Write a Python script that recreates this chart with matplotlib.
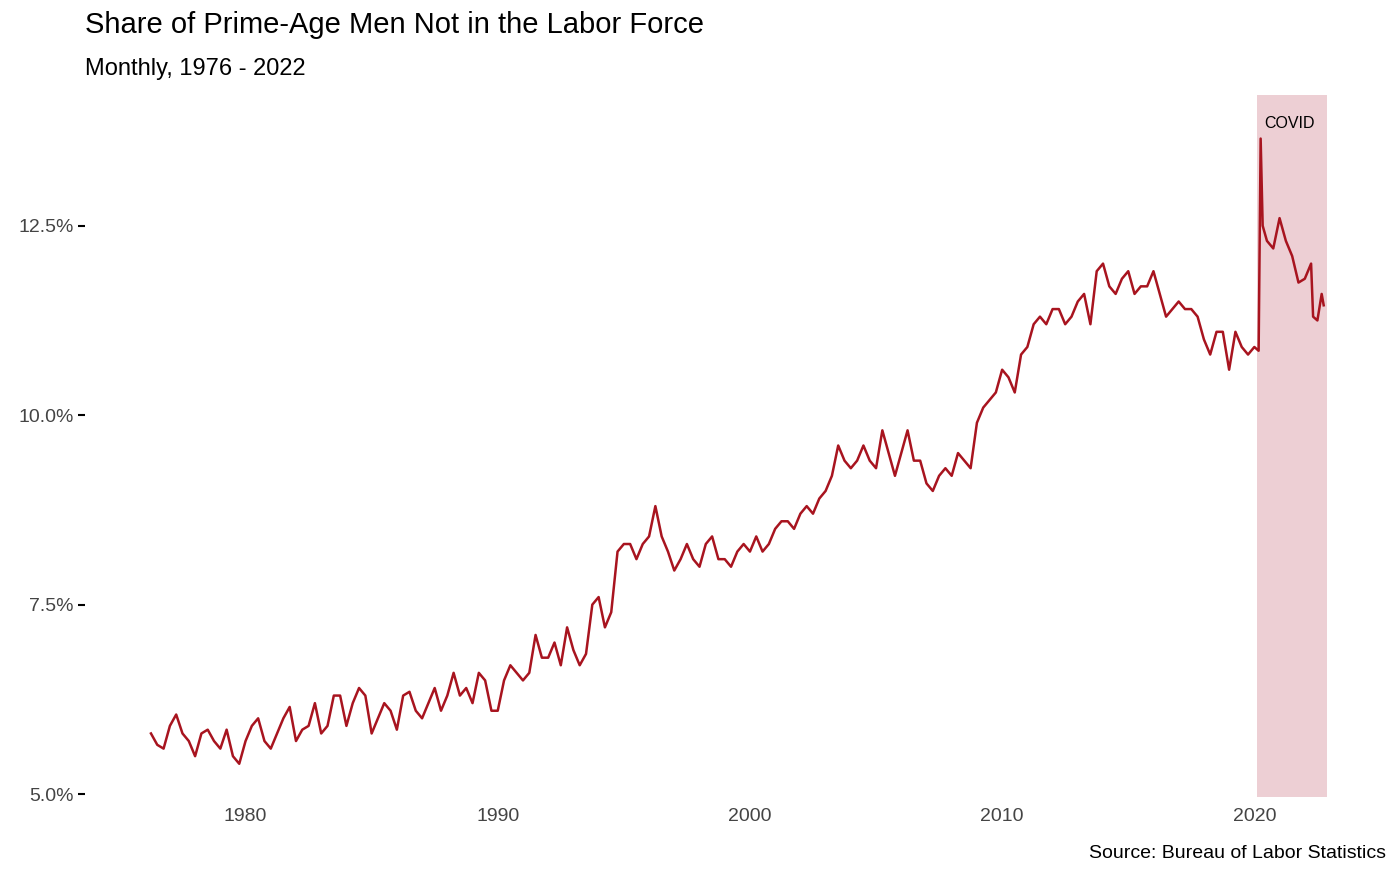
import numpy as np
import matplotlib
matplotlib.use('Agg')
import matplotlib.pyplot as plt
from matplotlib.ticker import FuncFormatter

plt.rcParams['font.family'] = ['Liberation Sans', 'DejaVu Sans']

# quarterly readings (percent), 1976 Q2 .. 2019 Q4
start_year = 1976.25
quarterly = [
    5.8, 5.65, 5.6,
    5.9, 6.05, 5.8, 5.7,
    5.5, 5.8, 5.85, 5.7,
    5.6, 5.85, 5.5, 5.4,
    5.7, 5.9, 6.0, 5.7,
    5.6, 5.8, 6.0, 6.15,
    5.7, 5.85, 5.9, 6.2,
    5.8, 5.9, 6.3, 6.3,
    5.9, 6.2, 6.4, 6.3,
    5.8, 6.0, 6.2, 6.1,
    5.85, 6.3, 6.35, 6.1,
    6.0, 6.2, 6.4, 6.1,
    6.3, 6.6, 6.3, 6.4,
    6.2, 6.6, 6.5, 6.1,
    6.1, 6.5, 6.7, 6.6,
    6.5, 6.6, 7.1, 6.8,
    6.8, 7.0, 6.7, 7.2,
    6.9, 6.7, 6.85, 7.5,
    7.6, 7.2, 7.4, 8.2,
    8.3, 8.3, 8.1, 8.3,
    8.4, 8.8, 8.4, 8.2,
    7.95, 8.1, 8.3, 8.1,
    8.0, 8.3, 8.4, 8.1,
    8.1, 8.0, 8.2, 8.3,
    8.2, 8.4, 8.2, 8.3,
    8.5, 8.6, 8.6, 8.5,
    8.7, 8.8, 8.7, 8.9,
    9.0, 9.2, 9.6, 9.4,
    9.3, 9.4, 9.6, 9.4,
    9.3, 9.8, 9.5, 9.2,
    9.5, 9.8, 9.4, 9.4,
    9.1, 9.0, 9.2, 9.3,
    9.2, 9.5, 9.4, 9.3,
    9.9, 10.1, 10.2, 10.3,
    10.6, 10.5, 10.3, 10.8,
    10.9, 11.2, 11.3, 11.2,
    11.4, 11.4, 11.2, 11.3,
    11.5, 11.6, 11.2, 11.9,
    12.0, 11.7, 11.6, 11.8,
    11.9, 11.6, 11.7, 11.7,
    11.9, 11.6, 11.3, 11.4,
    11.5, 11.4, 11.4, 11.3,
    11.0, 10.8, 11.1, 11.1,
    10.6, 11.1, 10.9, 10.8,
]
# pandemic period, finer readings
covid_dates = [2020.0, 2020.17, 2020.25, 2020.33, 2020.5, 2020.75,
               2021.0, 2021.25, 2021.5, 2021.75, 2022.0, 2022.25, 2022.33,
               2022.5, 2022.67, 2022.75]
covid_vals = [10.9, 10.85, 13.65, 12.5, 12.3, 12.2,
              12.6, 12.3, 12.1, 11.75, 11.8, 12.0, 11.3,
              11.25, 11.6, 11.45]
covid_span = (2020.1, 2022.9)

dates = [start_year + 0.25 * i for i in range(len(quarterly))] + covid_dates
vals = quarterly + covid_vals

fig = plt.figure(figsize=(14, 8.75), dpi=100)
ax = fig.add_axes([0.061, 0.089, 0.889, 0.802])
ax.axvspan(*covid_span, color='#edcfd4', lw=0, zorder=0)
ax.plot(dates, vals, color='#a8141f', lw=1.8, zorder=2)
ax.text(covid_span[0] + 0.3, 13.75, 'COVID', fontsize=11.5, ha='left', va='bottom')

ax.set_xlim(1973.65, 2023.0)
ax.set_ylim(4.96, 14.22)
ax.set_yticks([5, 7.5, 10, 12.5])
ax.yaxis.set_major_formatter(FuncFormatter(lambda v, p: '%.1f%%' % v))
ax.set_xticks([1980, 1990, 2000, 2010, 2020])
for s in ax.spines.values():
    s.set_visible(False)
ax.tick_params(axis='x', length=0, labelsize=14, colors='#444444', pad=8)
ax.tick_params(axis='y', length=5, width=1.5, labelsize=14, labelcolor='#444444', color='black')

fig.text(0.061, 0.955, 'Share of Prime-Age Men Not in the Labor Force', fontsize=21, va='bottom')
fig.text(0.061, 0.908, 'Monthly, 1976 - 2022', fontsize=17, va='bottom')
fig.text(0.99, 0.015, 'Source: Bureau of Labor Statistics', fontsize=14, ha='right', va='bottom')

fig.savefig('out.png')
